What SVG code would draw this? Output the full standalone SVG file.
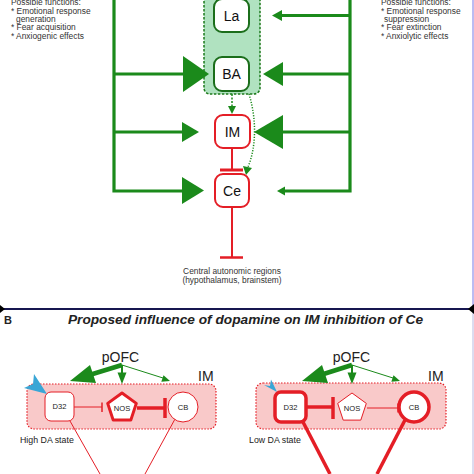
<svg xmlns="http://www.w3.org/2000/svg" width="474" height="474" viewBox="0 0 474 474">
<style>
text{font-family:"Liberation Sans",Arial,sans-serif;fill:#222}
.fn{font-size:8.4px;fill:#333}
.box{font-size:14px;fill:#111}
.g{stroke:#1b8a1b;fill:none;stroke-width:3.2}
.gf{fill:#1b8a1b}
.r{stroke:#e41e26;fill:none}
.sm{font-size:7.6px;fill:#222}
</style>
<rect x="0" y="0" width="474" height="474" fill="#ffffff"/>
<rect x="472" y="0" width="2" height="309" fill="#bcbcf2"/>
<rect x="472" y="309" width="2" height="165" fill="#dcdcf0"/>

<g id="text-left">
<text class="fn" x="11" y="4.5">Possible functions:</text>
<text class="fn" x="11" y="13.5">* Emotional response</text>
<text class="fn" x="16" y="21.5">generation</text>
<text class="fn" x="11" y="30">* Fear acquisition</text>
<text class="fn" x="11" y="38.5">* Anxiogenic effects</text>
</g>
<g id="text-right">
<text class="fn" x="381" y="4.5">Possible functions:</text>
<text class="fn" x="381" y="13.5">* Emotional response</text>
<text class="fn" x="384" y="21.5">suppression</text>
<text class="fn" x="381" y="30">* Fear extinction</text>
<text class="fn" x="381" y="38.5">* Anxiolytic effects</text>
</g>

<g id="bla-region">
<rect x="204" y="-6" width="56" height="100" rx="6" fill="#b0e2c0" stroke="#1b7a1b" stroke-width="1.5" stroke-dasharray="2.5,1.5"/>
</g>

<g id="connectors">
<path class="g" d="M114,-2 V191 H184"/>
<polygon class="gf" points="182,177 204,190.5 182,204"/>
<path class="g" d="M114,74 H185"/>
<polygon class="gf" points="183,56 209,74 183,92"/>
<path class="g" d="M114,132 H184"/>
<polygon class="gf" points="182,122 199,132 182,142"/>
<path class="g" d="M350,-2 V191 H283"/>
<polygon class="gf" points="285,186.5 277,191 285,195.5"/>
<path class="g" d="M350,15.5 H280"/>
<polygon class="gf" points="282,10 272,15.5 282,21"/>
<path class="g" d="M350,74 H281"/>
<polygon class="gf" points="283,62 263,74 283,86"/>
<path class="g" d="M350,132 H281"/>
<polygon class="gf" points="283,115 254,132 283,149"/>
<path d="M232,94 V107" stroke="#1b8a1b" stroke-width="1.5" stroke-dasharray="2,1.5" fill="none"/>
<polygon class="gf" points="228,106 236,106 232,114"/>
<path d="M249,94 C257,120 256,148 248,167" stroke="#1b8a1b" stroke-width="1.5" stroke-dasharray="1.2,1.5" fill="none"/>
<polygon class="gf" points="243,166 252,168 246,175"/>
<path class="r" d="M232,148 V170" stroke-width="2"/>
<path class="r" d="M220,170 H243" stroke-width="3"/>
<path class="r" d="M232,207 V257" stroke-width="2"/>
<path class="r" d="M220,257.5 H243" stroke-width="2.5"/>
</g>

<g id="La">
<rect x="214" y="-1" width="35" height="33" rx="8" fill="#fff" stroke="#1b6e1b" stroke-width="2"/>
<text class="box" x="231.5" y="20.5" text-anchor="middle">La</text>
</g>
<g id="BA">
<rect x="214" y="57" width="35" height="34" rx="8" fill="#fff" stroke="#1b6e1b" stroke-width="2"/>
<text class="box" x="231.5" y="79" text-anchor="middle">BA</text>
</g>
<g id="IM">
<rect x="215" y="115" width="35" height="33" rx="8" fill="#fff" stroke="#e41e26" stroke-width="2"/>
<text class="box" x="232.5" y="136.5" text-anchor="middle">IM</text>
</g>
<g id="Ce">
<rect x="215" y="174" width="34" height="33" rx="8" fill="#fff" stroke="#e41e26" stroke-width="2"/>
<text class="box" x="232" y="195.5" text-anchor="middle">Ce</text>
</g>
<g id="autonomic">
<text class="fn" x="232" y="274" text-anchor="middle">Central autonomic regions</text>
<text class="fn" x="232" y="283" text-anchor="middle">(hypothalamus, brainstem)</text>
</g>

<g id="separator">
<path d="M0,309 H471" stroke="#161650" stroke-width="2"/>
<polygon points="0,305 5,309 0,313" fill="#000"/>
<polygon points="474,304 468,309 474,314" fill="#000"/>
</g>

<g id="title">
<text x="4" y="324" font-size="11" font-weight="bold">B</text>
<text x="245.5" y="324" font-size="13.7" font-weight="bold" font-style="italic" text-anchor="middle" fill="#111">Proposed influence of dopamine on IM inhibition of Ce</text>
</g>

<g id="high-da">
<rect x="27" y="384" width="189" height="45" rx="7" fill="#f9c9c9" stroke="#e41e26" stroke-width="1.2" stroke-dasharray="1.5,1.5"/>
<text x="120.5" y="362" font-size="14" text-anchor="middle" fill="#222">pOFC</text>
<text x="198" y="381" font-size="14" fill="#222">IM</text>
<text x="20" y="442.5" font-size="8.8">High DA state</text>
<g id="high-links">
<path class="r" d="M74,407 H102" stroke-width="1"/>
<path class="r" d="M102,402.5 V412" stroke-width="1.5"/>
<path class="r" d="M137,408 H165" stroke-width="3.5"/>
<path class="r" d="M165,398 V418" stroke-width="3.5"/>
<path class="r" d="M70,421 L100,474" stroke-width="1"/>
<path class="r" d="M175,419 L145,474" stroke-width="1"/>
<path d="M122,365 L91,374.5" stroke="#1b8a1b" stroke-width="4.5" fill="none"/>
<polygon class="gf" points="70,381 90,365 96,383"/>
<path d="M122,365 V375" stroke="#1b8a1b" stroke-width="2" fill="none"/>
<polygon class="gf" points="117.5,372.5 126.5,372.5 122,384"/>
<path d="M122,365 L163,378" stroke="#1b8a1b" stroke-width="1" fill="none"/>
<polygon class="gf" points="170,381 161.3,381.8 163.5,375.2"/>
<polygon points="47,394 34,374 33,384 24,388" fill="#3aa6d6"/>
</g>
<g id="D32-high">
<rect x="45" y="392" width="29" height="29" rx="6" fill="#fff" stroke="#e41e26" stroke-width="1"/>
<text class="sm" x="59.5" y="409" text-anchor="middle">D32</text>
</g>
<g id="NOS-high">
<polygon points="122,393 136.3,403.4 130.8,420.1 113.2,420.1 107.7,403.4" fill="#fff" stroke="#e41e26" stroke-width="3" stroke-linejoin="round"/>
<text class="sm" x="122" y="410.5" text-anchor="middle">NOS</text>
</g>
<g id="CB-high">
<circle cx="183" cy="407" r="15" fill="#fff" stroke="#e41e26" stroke-width="1"/>
<text class="sm" x="183" y="410" text-anchor="middle">CB</text>
</g>
</g>

<g id="low-da">
<rect x="256" y="383" width="190" height="46" rx="7" fill="#f9c9c9" stroke="#e41e26" stroke-width="1.2" stroke-dasharray="1.5,1.5"/>
<text x="351.5" y="362" font-size="14" text-anchor="middle" fill="#222">pOFC</text>
<text x="428" y="381" font-size="14" fill="#222">IM</text>
<text x="249" y="442.5" font-size="8.8">Low DA state</text>
<g id="low-links">
<path class="r" d="M306,407 H333" stroke-width="3.5"/>
<path class="r" d="M333,397 V419" stroke-width="3.5"/>
<path class="r" d="M367,408 H398" stroke-width="1"/>
<path class="r" d="M398,403.5 V412.5" stroke-width="1.5"/>
<path class="r" d="M303,422 L330,474" stroke-width="3.5"/>
<path class="r" d="M405,420 L377,474" stroke-width="3.5"/>
<path d="M352,365 L322,374.5" stroke="#1b8a1b" stroke-width="4.5" fill="none"/>
<polygon class="gf" points="302,381 322,365 328,383"/>
<path d="M352,365 V375" stroke="#1b8a1b" stroke-width="2" fill="none"/>
<polygon class="gf" points="347.5,372.5 356.5,372.5 352,384"/>
<path d="M352,365 L393,378" stroke="#1b8a1b" stroke-width="1" fill="none"/>
<polygon class="gf" points="400,381 391.3,381.8 393.5,375.2"/>
<polygon points="277,392 271,379.5 270,386 264,385" fill="#3aa6d6"/>
</g>
<g id="D32-low">
<rect x="275" y="392" width="31" height="30" rx="6" fill="#fff" stroke="#e41e26" stroke-width="3.5"/>
<text class="sm" x="290.5" y="410" text-anchor="middle">D32</text>
</g>
<g id="NOS-low">
<polygon points="352,393 366.3,403.4 360.8,420.1 343.2,420.1 337.7,403.4" fill="#fff" stroke="#e41e26" stroke-width="1" stroke-linejoin="round"/>
<text class="sm" x="352" y="410.5" text-anchor="middle">NOS</text>
</g>
<g id="CB-low">
<circle cx="414" cy="407" r="15" fill="#fff" stroke="#e41e26" stroke-width="3.5"/>
<text class="sm" x="414" y="410" text-anchor="middle">CB</text>
</g>
</g>
</svg>
